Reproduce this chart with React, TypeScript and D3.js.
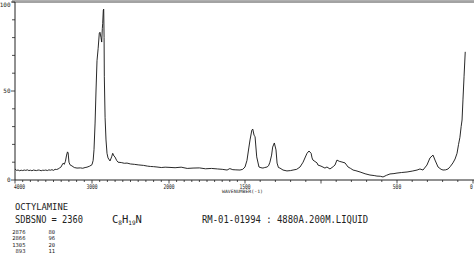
import React from "react";
import * as d3 from "d3";

const W = 474;
const H = 255;

// Raman shift (cm-1) and relative intensity
const wavenumbers = [
  4000, 3980, 3960, 3940, 3920, 3900, 3880, 3860, 3840, 3820, 3800, 3780, 3760, 3740, 3720, 3700,
  3680, 3660, 3640, 3620, 3600, 3580, 3560, 3540, 3520, 3500, 3480, 3460, 3440, 3420, 3400, 3390,
  3373, 3360, 3345, 3330, 3318, 3310, 3299, 3285, 3260, 3230, 3195, 3150, 3120, 3090, 3065, 3030,
  3000, 2985, 2974, 2960, 2948, 2935, 2920, 2905, 2896, 2883, 2874, 2866, 2861, 2853, 2848, 2843,
  2840, 2830, 2818, 2805, 2792, 2766, 2745, 2731, 2715, 2701, 2680, 2662, 2620, 2580, 2545, 2500,
  2450, 2400, 2377, 2330, 2280, 2240, 2200, 2156, 2100, 2050, 2000,
  1960, 1920, 1880, 1842, 1800, 1760, 1720, 1680, 1650, 1618, 1600, 1580, 1560, 1533, 1515, 1500,
  1487, 1475, 1467, 1455, 1449, 1440, 1434, 1423, 1408, 1395, 1382, 1370, 1355, 1345, 1336, 1325,
  1318, 1307, 1296, 1289, 1280, 1270, 1250, 1224, 1200, 1184, 1160, 1138, 1118, 1100, 1092, 1079,
  1065, 1059, 1053, 1026, 1020, 1000, 974, 961, 941, 920, 908, 895, 880, 862, 842, 822,
  805, 789, 770, 743, 710, 678, 650, 632, 610, 592, 570, 546, 520, 500, 470, 434,
  400, 368, 349, 329, 303, 283, 263, 250, 230, 210, 197, 180, 164, 150, 132, 118,
  105, 95, 86, 78, 72, 66, 59, 51,
];
const intensities = [
  6.2, 5.4, 5.6, 5.2, 5.5, 5.3, 5.6, 5.4, 5.7, 5.3, 5.5, 5.2, 5.6, 5.4, 5.3, 5.6,
  5.5, 5.2, 5.5, 5.4, 5.6, 5.3, 5.7, 5.5, 5.8, 5.4, 6.0, 5.9, 6.2, 6.8, 7.4, 8.4,
  9.5, 8.8, 10.5, 14, 15.8, 15.2, 10, 8.5, 7.9, 7.0, 6.7, 6.8, 6.6, 7.0, 7.2, 7.8,
  8.6, 11, 17, 32, 50, 67, 74, 82.6, 83, 80, 77.5, 85, 88, 95.5, 96, 80,
  58, 35, 22.5, 15, 12.4, 10.7, 13, 15, 13.5, 12.9, 11, 10, 9.8, 9.4, 9.5, 9.0,
  8.8, 8.5, 8.4, 8.2, 7.8, 7.6, 7.5, 7.3, 7.0, 7.2, 7.1,
  6.9, 7.2, 6.5, 6.7, 6.8, 6.3, 6.5, 6.2, 6.0, 5.6, 6.4, 5.8, 5.7, 5.6, 6.0, 7.3,
  11, 18, 22.5, 28, 28.6, 25, 24.5, 13, 7.3, 6.9, 6.7, 7.0, 7.3, 8.0, 10, 14,
  18.5, 20.8, 16.9, 9.5, 7.0, 6.7, 5.6, 5.1, 5.3, 5.6, 6.0, 7.3, 10, 13.5, 15, 16.3,
  15.0, 12.4, 11.2, 9.6, 8.4, 7.8, 6.7, 7.3, 6.2, 7.5, 8.4, 11.2, 10.5, 10.1, 9.6, 7.3,
  6.5, 5.6, 5.2, 4.5, 3.5, 2.8, 2.5, 2.2, 2.1, 1.7, 2.6, 3.4, 3.6, 3.9, 4.2, 4.5,
  5.0, 5.6, 6.2, 5.6, 8.4, 12.4, 14, 11.2, 7.3, 6.0, 5.6, 5.7, 6.2, 7.5, 9.6, 11.8,
  15, 20, 24, 30, 33.7, 45, 58, 72,
];

const xLabelValues = [4000, 3000, 2000, 1500, 500, 0];
const xLabelTexts = ["4000", "3000", "2000", "1500", "500", "0"];
const xMajorTicks = [4000, 3000, 2000, 1500, 1000, 500, 0];
const yLabelValues = [100, 50, 0];
const yLabelTexts = ["100", "50", "0"];

const compoundName = "OCTYLAMINE";
const sdbsLine = "SDBSNO = 2360";
const measureLine = "RM-01-01994 : 4880A.200M.LIQUID";
const axisTitle = "WAVENUMBER(-1)";
const peakWavenumbers = ["2876", "2866", "1305", "893"];
const peakIntensities = ["80", "96", "20", "11"];

function buildMinorTicks(): number[] {
  const t: number[] = [];
  for (let v = 4000; v >= 2000; v -= 100) t.push(v);
  for (let v = 1950; v >= 1500; v -= 50) t.push(v);
  for (let v = 1400; v >= 0; v -= 100) t.push(v);
  return t;
}

export default function App() {
  const x = d3.scaleLinear().domain([4000, 2000, 0]).range([15, 169, 473]);
  const y = d3.scaleLinear().domain([0, 100]).range([180, 2]);

  const pts: [number, number][] = wavenumbers.map((w, i) => [w, intensities[i]]);
  const line = d3
    .line<[number, number]>()
    .x((d) => x(d[0]))
    .y((d) => y(d[1]));

  const minor = buildMinorTicks();
  const yTicks = d3.range(0, 101, 10);
  const mono = "'DejaVu Sans Mono', monospace";
  const ink = "#222";

  const xLabelPos = (v: number) => (v === 4000 ? x(v) + 4.5 : v === 0 ? x(v) - 1.5 : x(v));
  const yLabelPos = (v: number) => (v === 100 ? y(v) + 4.5 : y(v) + 2);

  return (
    <svg
      width={W}
      height={H}
      viewBox={`0 0 ${W} ${H}`}
      style={{ position: "absolute", left: 0, top: 0, background: "#fff" }}
    >
      <rect x={0} y={0} width={W} height={H} fill="#fff" />
      {/* top border */}
      <rect x={12} y={0} width={W - 12} height={2.6} fill="#b0b0b0" />
      <line x1={12} x2={W} y1={2.2} y2={2.2} stroke="#808080" strokeWidth={0.8} />
      {/* axes */}
      <line x1={x(4000)} x2={x(4000)} y1={2} y2={y(0)} stroke={ink} strokeWidth={1} />
      <line x1={x(4000)} x2={W} y1={y(0)} y2={y(0)} stroke={ink} strokeWidth={1} />
      {yTicks.map((v) => (
        <line
          key={"yt" + v}
          x1={x(4000) - (v % 50 === 0 ? 4 : 3)}
          x2={x(4000)}
          y1={y(v)}
          y2={y(v)}
          stroke={ink}
          strokeWidth={0.8}
        />
      ))}
      {yLabelValues.map((v, i) => (
        <text
          key={"yl" + v}
          x={10.5}
          y={yLabelPos(v)}
          fontFamily={mono}
          fontSize={6}
          textAnchor="end"
          fill={ink}
        >
          {yLabelTexts[i]}
        </text>
      ))}
      {minor.map((v, i) => (
        <line
          key={"xt" + i}
          x1={x(v)}
          x2={x(v)}
          y1={y(0)}
          y2={y(0) + (xMajorTicks.includes(v) ? 3.5 : 2)}
          stroke={ink}
          strokeWidth={0.8}
        />
      ))}
      {xLabelValues.map((v, i) => (
        <text
          key={"xl" + v}
          x={xLabelPos(v)}
          y={188.5}
          fontFamily={mono}
          fontSize={6.5}
          textAnchor="middle"
          fill={ink}
          textLength={xLabelTexts[i].length * 2.8}
          lengthAdjust="spacingAndGlyphs"
        >
          {xLabelTexts[i]}
        </text>
      ))}
      <text
        x={242.5}
        y={193}
        fontFamily={mono}
        fontSize={4.5}
        textAnchor="middle"
        fill={ink}
        textLength={41}
        lengthAdjust="spacingAndGlyphs"
      >
        {axisTitle}
      </text>
      {/* spectrum */}
      <path d={line(pts) || ""} fill="none" stroke="#111" strokeWidth={0.9} strokeLinejoin="round" />
      {/* info text */}
      <text x={15} y={210} fontFamily={mono} fontSize={9} fill={ink} textLength={53} lengthAdjust="spacingAndGlyphs">
        {compoundName}
      </text>
      <text x={15} y={223} fontFamily={mono} fontSize={10.5} fill={ink} textLength={68} lengthAdjust="spacingAndGlyphs">
        {sdbsLine}
      </text>
      <text x={112} y={223} fontFamily={mono} fontSize={10.5} fill={ink}>
        <tspan>C</tspan>
        <tspan fontSize={6} dy={2}>8</tspan>
        <tspan dy={-2}>H</tspan>
        <tspan fontSize={6} dy={2}>19</tspan>
        <tspan dy={-2}>N</tspan>
      </text>
      <text x={202} y={223} fontFamily={mono} fontSize={10.5} fill={ink} textLength={166} lengthAdjust="spacingAndGlyphs">
        {measureLine}
      </text>
      {peakWavenumbers.map((w, i) => (
        <g key={"pk" + i}>
          <text x={25.5} y={234 + i * 6.4} fontFamily={mono} fontSize={5.5} textAnchor="end" fill={ink}>
            {w}
          </text>
          <text x={55} y={234 + i * 6.4} fontFamily={mono} fontSize={5.5} textAnchor="end" fill={ink}>
            {peakIntensities[i]}
          </text>
        </g>
      ))}
    </svg>
  );
}
